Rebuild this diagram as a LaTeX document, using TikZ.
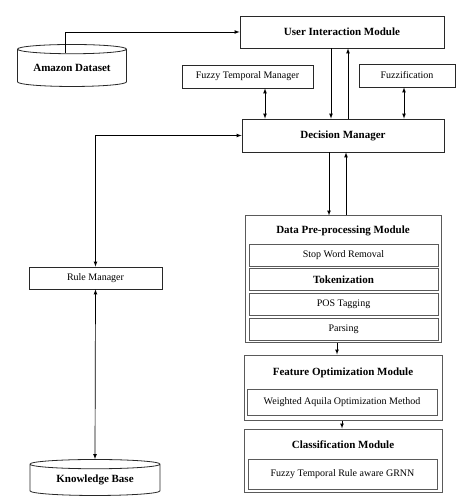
\documentclass[tikz,border=0pt]{standalone}
\usepackage{fontspec}
\setmainfont{Liberation Serif}
\usepackage{xcolor}
\usetikzlibrary{shapes.geometric, arrows, positioning, calc}
\definecolor{boxline}{RGB}{40, 40, 40}
\definecolor{frameline}{RGB}{90, 90, 90}

\tikzset{
    modbox/.style={draw=boxline, line width=0.8pt, inner sep=0pt, align=center},
    subbox/.style={draw=frameline, line width=1pt, inner sep=0pt, align=center},
    dbase/.style={cylinder, draw=boxline, line width=0.8pt, shape border rotate=90,
          aspect=0.12, inner sep=0pt, align=center},
    heading/.style={font=\fontsize{11}{13}\selectfont\bfseries},
    link/.style={line width=0.7pt, -latex},
}

\begin{document}
\begin{tikzpicture}[x=1pt, y=-1pt, font=\fontsize{10}{12}\selectfont]
    \useasboundingbox (0,0) rectangle (474,502);

    % top row
    \node[modbox, heading, minimum width=204pt, minimum height=32pt] (uim) at (342,32) {User Interaction Module};
    \node[dbase, heading, minimum width=109pt, minimum height=42pt] (ad) at (72,68) {Amazon Dataset};
    \node[modbox, minimum width=131pt, minimum height=23pt] (ftm) at (247.5,76.5) {Fuzzy Temporal Manager};
    \node[modbox, minimum width=96pt, minimum height=23pt] (fz) at (407,75.5) {Fuzzification};
    \node[modbox, heading, minimum width=202pt, minimum height=33pt] (dm) at (343,135.5) {Decision Manager};

    % left column
    \node[modbox, minimum width=133pt, minimum height=22pt] (rm) at (95.5,278) {Rule Manager};
    \node[dbase, heading, minimum width=130pt, minimum height=36pt] (kb) at (95,480) {Knowledge Base};

    % processing stack
    \draw[frameline, line width=0.7pt, double, double distance=1.5pt] (242,212) rectangle (445,498);
    \node[subbox, minimum width=196pt, minimum height=126pt] (dpm) at (343,279) {};
    \node[heading] (dpmt) at (343,231) {Data Pre-processing Module};
    \node[subbox, minimum width=189pt, minimum height=22pt] (swr) at (343.5,255) {Stop Word Removal};
    \node[subbox, heading, minimum width=189pt, minimum height=22pt] (tok) at (343.5,279.5) {Tokenization};
    \node[subbox, minimum width=189pt, minimum height=22pt] (pos) at (343.5,304.5) {POS Tagging};
    \node[subbox, minimum width=189pt, minimum height=22pt] (par) at (343.5,329) {Parsing};

    \node[subbox, minimum width=198pt, minimum height=65pt] (fom) at (343,387.5) {};
    \node[heading] (fomt) at (343,373) {Feature Optimization Module};
    \node[subbox, minimum width=190pt, minimum height=26pt] (wao) at (342,402) {Weighted Aquila Optimization Method};

    \node[subbox, minimum width=198pt, minimum height=63pt] (cm) at (343,460.5) {};
    \node[heading] (cmt) at (343,445) {Classification Module};
    \node[subbox, minimum width=189pt, minimum height=30pt] (grnn) at (342.5,474) {Fuzzy Temporal Rule aware GRNN};

    % connectors
    \coordinate (adin) at (65,53);
    \draw[link] (adin) |- (uim.west);
    \draw[link] ([xshift=-11pt]uim.south) -- ([xshift=-11pt]uim.south |- dm.north);
    \draw[link] ([xshift=6pt]uim.south |- dm.north) -- ([xshift=6pt]uim.south);
    \draw[link, latex-latex] ([xshift=17.5pt]ftm.south) -- ([xshift=17.5pt]ftm.south |- dm.north);
    \draw[link, latex-latex] ([xshift=-3pt]fz.south) -- ([xshift=-3pt]fz.south |- dm.north);
    \draw[link, latex-latex] (dm.west) -| (rm.north);
    \draw[link, latex-latex] (rm.south) -- (kb.top);
    \draw[link] ([xshift=-14pt]dm.south) -- ([xshift=-14pt]dm.south |- dpm.north);
    \draw[link] ([xshift=3pt]dm.south |- dpm.north) -- ([xshift=3pt]dm.south);
    \draw[link] ([xshift=-6pt]dpm.south) -- ([xshift=-6pt]dpm.south |- fom.north);
    \draw[link] ([xshift=-1pt]fom.south) -- ([xshift=-1pt]fom.south |- cm.north);
\end{tikzpicture}
\end{document}
